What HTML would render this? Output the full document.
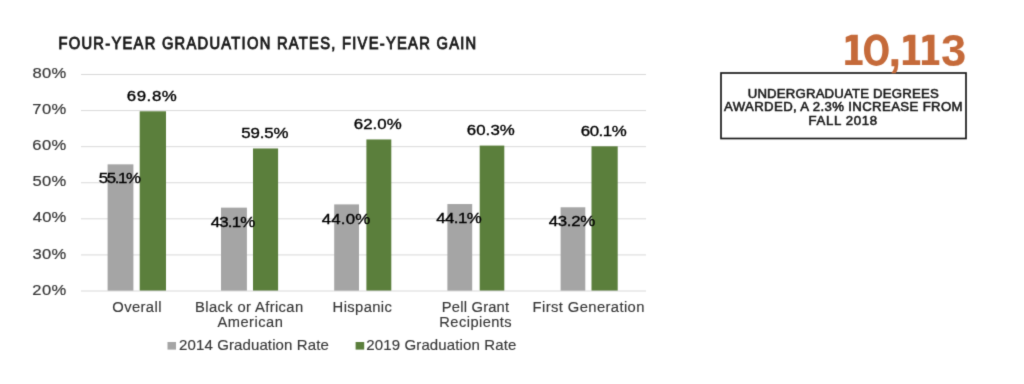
<!DOCTYPE html>
<html><head><meta charset="utf-8"><style>
html,body{margin:0;padding:0;background:#fff;}
body{width:1024px;height:384px;overflow:hidden;}
svg{display:block;font-family:"Liberation Sans",sans-serif;}
</style></head><body>
<svg width="1024" height="384" viewBox="0 0 1024 384">
<defs><filter id="bl" x="0" y="0" width="1024" height="384" filterUnits="userSpaceOnUse" color-interpolation-filters="sRGB"><feConvolveMatrix order="3" kernelMatrix="0.0144 0.0912 0.0144 0.0912 0.5776 0.0912 0.0144 0.0912 0.0144" divisor="1" edgeMode="duplicate" preserveAlpha="true"/></filter></defs>
<g filter="url(#bl)">
<rect x="0" y="0" width="1024" height="384" fill="#fff"/>
<rect x="81" y="74.00" width="565" height="1" fill="#d9d9d9"/>
<rect x="81" y="110.09" width="565" height="1" fill="#d9d9d9"/>
<rect x="81" y="146.17" width="565" height="1" fill="#d9d9d9"/>
<rect x="81" y="182.25" width="565" height="1" fill="#d9d9d9"/>
<rect x="81" y="218.33" width="565" height="1" fill="#d9d9d9"/>
<rect x="81" y="254.42" width="565" height="1" fill="#d9d9d9"/>
<rect x="107.60" y="164.35" width="25.80" height="126.65" fill="#a5a5a5"/>
<rect x="139.70" y="111.31" width="26.30" height="179.69" fill="#5b7f3c"/>
<rect x="221.00" y="207.65" width="25.90" height="83.35" fill="#a5a5a5"/>
<rect x="253.00" y="148.47" width="25.10" height="142.53" fill="#5b7f3c"/>
<rect x="334.20" y="204.40" width="24.80" height="86.60" fill="#a5a5a5"/>
<rect x="366.40" y="139.45" width="24.90" height="151.55" fill="#5b7f3c"/>
<rect x="447.40" y="204.04" width="24.80" height="86.96" fill="#a5a5a5"/>
<rect x="479.70" y="145.59" width="24.60" height="145.41" fill="#5b7f3c"/>
<rect x="560.60" y="207.29" width="24.70" height="83.71" fill="#a5a5a5"/>
<rect x="591.50" y="146.31" width="26.20" height="144.69" fill="#5b7f3c"/>
<rect x="81" y="290.50" width="565" height="1" fill="#d9d9d9"/>
<rect x="167.5" y="342" width="8.5" height="7.6" fill="#a5a5a5"/>
<rect x="355.6" y="342" width="8.6" height="7.6" fill="#5b7f3c"/>
<path d="M845.70,37.1 L851.10,34.7 L857.80,34.7 L857.80,60.2 L862.60,60.2 L862.60,64.9 L845.20,64.9 L845.20,60.2 L851.10,60.2 L851.10,40.9 L845.70,42.7 Z" fill="#c56a3a" fill-rule="evenodd"/>
<path d="M903.30,37.1 L908.70,34.7 L915.40,34.7 L915.40,60.2 L920.20,60.2 L920.20,64.9 L902.80,64.9 L902.80,60.2 L908.70,60.2 L908.70,40.9 L903.30,42.7 Z" fill="#c56a3a" fill-rule="evenodd"/>
<path d="M922.40,37.1 L927.80,34.7 L934.50,34.7 L934.50,60.2 L939.30,60.2 L939.30,64.9 L921.90,64.9 L921.90,60.2 L927.80,60.2 L927.80,40.9 L922.40,42.7 Z" fill="#c56a3a" fill-rule="evenodd"/>
<path d="M864.00,50.10 C864.00,40.56 868.94,34.20 876.35,34.20 C883.76,34.20 888.70,40.56 888.70,50.10 C888.70,59.64 883.76,66.00 876.35,66.00 C868.94,66.00 864.00,59.64 864.00,50.10 Z M870.40,50.30 C870.40,43.44 872.44,39.90 876.40,39.90 C880.36,39.90 882.40,43.44 882.40,50.30 C882.40,57.16 880.36,60.70 876.40,60.70 C872.44,60.70 870.40,57.16 870.40,50.30 Z" fill="#c56a3a" fill-rule="evenodd"/>
<rect x="721" y="73" width="245" height="65.5" fill="none" stroke="#1a1a1a" stroke-width="1.7"/>
<text transform="translate(58.45,49.25) scale(0.9200,1)" font-size="16.00" font-weight="normal" letter-spacing="1.385" fill="#1a1a1a" stroke="#1a1a1a" stroke-width="0.85">FOUR-YEAR GRADUATION RATES, FIVE-YEAR GAIN</text>
<text transform="translate(32.48,78.10) scale(1.1200,1)" font-size="14.79" font-weight="normal" letter-spacing="0.290" fill="#383838" stroke="#383838" stroke-width="0.2">80%</text>
<text transform="translate(32.22,114.19) scale(1.1200,1)" font-size="14.79" font-weight="normal" letter-spacing="0.405" fill="#383838" stroke="#383838" stroke-width="0.2">70%</text>
<text transform="translate(32.22,150.27) scale(1.1200,1)" font-size="14.79" font-weight="normal" letter-spacing="0.405" fill="#383838" stroke="#383838" stroke-width="0.2">60%</text>
<text transform="translate(32.48,186.35) scale(1.1200,1)" font-size="14.79" font-weight="normal" letter-spacing="0.290" fill="#383838" stroke="#383838" stroke-width="0.2">50%</text>
<text transform="translate(32.74,222.43) scale(1.1200,1)" font-size="14.79" font-weight="normal" letter-spacing="0.174" fill="#383838" stroke="#383838" stroke-width="0.2">40%</text>
<text transform="translate(32.48,258.52) scale(1.1200,1)" font-size="14.79" font-weight="normal" letter-spacing="0.290" fill="#383838" stroke="#383838" stroke-width="0.2">30%</text>
<text transform="translate(32.22,294.60) scale(1.1200,1)" font-size="14.79" font-weight="normal" letter-spacing="0.405" fill="#383838" stroke="#383838" stroke-width="0.2">20%</text>
<text transform="translate(126.66,101.21) scale(1.2200,1)" font-size="13.80" font-weight="normal" letter-spacing="0.504" fill="#000000" stroke="#000000" stroke-width="0.32">69.8%</text>
<text transform="translate(241.25,138.37) scale(1.2200,1)" font-size="13.80" font-weight="normal" letter-spacing="-0.093" fill="#000000" stroke="#000000" stroke-width="0.32">59.5%</text>
<text transform="translate(353.74,129.35) scale(1.2200,1)" font-size="13.80" font-weight="normal" letter-spacing="0.063" fill="#000000" stroke="#000000" stroke-width="0.32">62.0%</text>
<text transform="translate(466.66,135.49) scale(1.2200,1)" font-size="13.80" font-weight="normal" letter-spacing="0.094" fill="#000000" stroke="#000000" stroke-width="0.32">60.3%</text>
<text transform="translate(580.86,136.21) scale(1.2200,1)" font-size="13.80" font-weight="normal" letter-spacing="-0.398" fill="#000000" stroke="#000000" stroke-width="0.32">60.1%</text>
<text transform="translate(98.72,183.45) scale(1.2200,1)" font-size="13.80" font-weight="normal" letter-spacing="-1.107" fill="#000000" stroke="#000000" stroke-width="0.32">55.1%</text>
<text transform="translate(210.76,226.75) scale(1.2200,1)" font-size="13.80" font-weight="normal" letter-spacing="-0.659" fill="#000000" stroke="#000000" stroke-width="0.32">43.1%</text>
<text transform="translate(321.71,223.50) scale(1.2200,1)" font-size="13.80" font-weight="normal" letter-spacing="0.181" fill="#000000" stroke="#000000" stroke-width="0.32">44.0%</text>
<text transform="translate(436.31,223.14) scale(1.2200,1)" font-size="13.80" font-weight="normal" letter-spacing="-0.475" fill="#000000" stroke="#000000" stroke-width="0.32">44.1%</text>
<text transform="translate(548.81,226.39) scale(1.2200,1)" font-size="13.80" font-weight="normal" letter-spacing="-0.270" fill="#000000" stroke="#000000" stroke-width="0.32">43.2%</text>
<text transform="translate(112.31,311.90) scale(1.0500,1)" font-size="14.08" font-weight="normal" letter-spacing="0.370" fill="#383838" stroke="#383838" stroke-width="0.15">Overall</text>
<text transform="translate(195.09,311.90) scale(1.0500,1)" font-size="14.08" font-weight="normal" letter-spacing="0.346" fill="#383838" stroke="#383838" stroke-width="0.15">Black or African</text>
<text transform="translate(217.50,327.20) scale(1.0500,1)" font-size="13.94" font-weight="normal" letter-spacing="0.476" fill="#383838" stroke="#383838" stroke-width="0.15">American</text>
<text transform="translate(332.59,311.90) scale(1.0500,1)" font-size="14.08" font-weight="normal" letter-spacing="0.365" fill="#383838" stroke="#383838" stroke-width="0.15">Hispanic</text>
<text transform="translate(441.84,311.90) scale(1.0500,1)" font-size="14.08" font-weight="normal" letter-spacing="0.170" fill="#383838" stroke="#383838" stroke-width="0.15">Pell Grant</text>
<text transform="translate(439.36,327.20) scale(1.0500,1)" font-size="13.94" font-weight="normal" letter-spacing="0.424" fill="#383838" stroke="#383838" stroke-width="0.15">Recipients</text>
<text transform="translate(532.59,311.90) scale(1.0500,1)" font-size="14.08" font-weight="normal" letter-spacing="0.379" fill="#383838" stroke="#383838" stroke-width="0.15">First Generation</text>
<text transform="translate(179.00,349.75) scale(1.0500,1)" font-size="14.30" font-weight="normal" letter-spacing="0.108" fill="#383838" stroke="#383838" stroke-width="0.15">2014 Graduation Rate</text>
<text transform="translate(366.30,349.75) scale(1.0500,1)" font-size="14.30" font-weight="normal" letter-spacing="0.118" fill="#383838" stroke="#383838" stroke-width="0.15">2019 Graduation Rate</text>
<text transform="translate(888.46,65.70) scale(1.0206,1)" font-size="44.52" font-weight="bold" fill="#c56a3a" stroke="#c56a3a" stroke-width="0.25">,</text>
<text transform="translate(941.30,65.70) scale(1.0019,1)" font-size="44.52" font-weight="bold" fill="#c56a3a" stroke="#c56a3a" stroke-width="0.25">3</text>
<text transform="translate(747.68,97.60) scale(1.0300,1)" font-size="12.80" font-weight="normal" letter-spacing="0.187" fill="#1a1a1a" stroke="#1a1a1a" stroke-width="0.55">UNDERGRADUATE DEGREES</text>
<text transform="translate(724.10,111.40) scale(1.0300,1)" font-size="12.80" font-weight="normal" letter-spacing="0.356" fill="#1a1a1a" stroke="#1a1a1a" stroke-width="0.55">AWARDED, A 2.3% INCREASE FROM</text>
<text transform="translate(808.47,125.20) scale(1.0300,1)" font-size="12.80" font-weight="normal" letter-spacing="0.640" fill="#1a1a1a" stroke="#1a1a1a" stroke-width="0.55">FALL 2018</text>
</g>
</svg></body></html>
